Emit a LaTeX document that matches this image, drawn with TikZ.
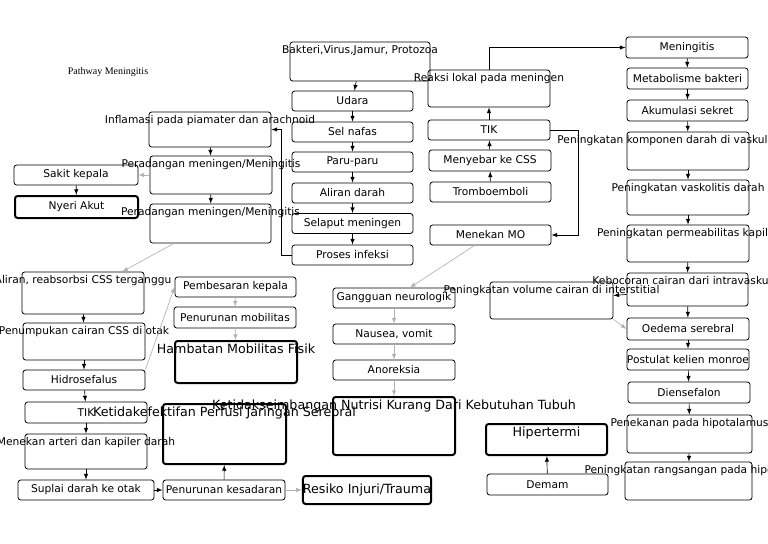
\documentclass[tikz,border=0pt]{standalone}
\usepackage{fontspec}
\setsansfont{DejaVu Sans}
\newfontfamily\ttlfont{Liberation Serif}
\begin{document}
\begin{tikzpicture}[x=0.75pt,y=-0.75pt,
  b/.style 2 args={draw,rounded corners=2pt,line width=0.6pt,minimum width=#1*0.75pt,minimum height=#2*0.75pt,inner sep=0pt,font=\sffamily\fontsize{8}{9}\selectfont},
  tb/.style={line width=1.5pt,font=\sffamily\fontsize{9.5}{10}\selectfont},
  lb/.style={anchor=north,yshift=-2.5pt,inner sep=0pt,font=\sffamily\fontsize{8}{9}\selectfont},
  lbb/.style={anchor=north,yshift=-3pt,inner sep=0pt,font=\sffamily\fontsize{9.5}{10}\selectfont},
  a/.style={-latex,line width=0.5pt,shorten >=0pt},
  ga/.style={-latex,line width=0.5pt,draw=gray!60}]
\useasboundingbox (0,0) rectangle (768,543);
\node[font=\ttlfont\fontsize{7.5}{8}\selectfont] (ttl) at (108,72) {Pathway Meningitis};
% centre column
\node[b={140}{39},label={[lb]north:{Bakteri,Virus,Jamur, Protozoa}}] (bak) at (360,61.5) {};
\node[b={121}{20}] (uda) at (352.5,101) {Udara};
\node[b={121}{20}] (sel) at (352.5,132) {Sel nafas};
\node[b={121}{20}] (paru) at (352.5,162) {Paru-paru};
\node[b={121}{20}] (alir) at (352.5,193) {Aliran darah};
\node[b={121}{20}] (selp) at (352.5,223.5) {Selaput meningen};
\node[b={121}{20}] (pros) at (352.5,255) {Proses infeksi};
% left
\node[b={122}{35},label={[lb]north:{Inflamasi pada piamater dan arachnoid}}] (infl) at (210,129.5) {};
\node[b={122}{38},label={[lb]north:{Peradangan meningen/Meningitis}}] (per1) at (211,175) {};
\node[b={121}{39},label={[lb]north:{Peradangan meningen/Meningitis}}] (per2) at (210.5,223.5) {};
\node[b={124}{20}] (sak) at (76,175) {Sakit kepala};
\node[b={123}{22},line width=1.5pt] (nye) at (76.5,207) {Nyeri Akut};
\node[b={122}{42},label={[lb]north:{Aliran, reabsorbsi CSS terganggu}}] (ali) at (83,293) {};
\node[b={122}{37},label={[lb]north:{Penumpukan cairan CSS di otak}}] (pen) at (84,341.5) {};
\node[b={122}{20}] (hid) at (84,380) {Hidrosefalus};
\node[b={122}{21}] (tik1) at (86,412.5) {TIK};
\node[b={122}{35},label={[lb]north:{Menekan arteri dan kapiler darah}}] (mena) at (86,451.5) {};
\node[b={136}{20}] (sup) at (86,490) {Suplai darah ke otak};
\node[b={122}{20}] (kes) at (224,490) {Penurunan kesadaran};
\node[b={122}{28},tb] (res) at (367,490) {Resiko Injuri/Trauma};
\node[b={123}{60},tb,label={[lbb]north:{Ketidakefektifan Perfusi Jaringan Serebral}}] (ket) at (224.5,434) {};
\node[b={121}{20}] (pemb) at (235.5,287) {Pembesaran kepala};
\node[b={122}{21}] (penm) at (235,317.5) {Penurunan mobilitas};
\node[b={122}{42},tb,label={[lbb]north:{Hambatan Mobilitas Fisik}}] (ham) at (236,362) {};
% right-centre
\node[b={122}{37},label={[lb]north:{Reaksi lokal pada meningen}}] (rea) at (489,88.5) {};
\node[b={122}{20}] (tik2) at (489,130) {TIK};
\node[b={122}{21}] (meny) at (490,160.5) {Menyebar ke CSS};
\node[b={121}{20}] (trom) at (490.5,192) {Tromboemboli};
\node[b={121}{20}] (mo) at (490.5,235) {Menekan MO};
\node[b={122}{20}] (gan) at (394,298) {Gangguan neurologik};
\node[b={122}{20}] (nau) at (394,334) {Nausea, vomit};
\node[b={122}{20}] (ano) at (394,370) {Anoreksia};
\node[b={122}{58},tb,label={[lbb]north:{Ketidakseimbangan Nutrisi Kurang Dari Kebutuhan Tubuh}}] (kse) at (394,426) {};
\node[b={123}{37},label={[lb]north:{Peningkatan volume cairan di interstitial}}] (vol) at (551.5,300.5) {};
\node[b={121}{31},tb,label={[lbb]north:{Hipertermi}}] (hpt) at (546.5,439.5) {};
\node[b={121}{21}] (dem) at (547.5,484.5) {Demam};
% right column
\node[b={122}{21}] (men) at (687,47.5) {Meningitis};
\node[b={121}{21}] (met) at (687.5,78.5) {Metabolisme bakteri};
\node[b={121}{21}] (aku) at (687.5,110.5) {Akumulasi sekret};
\node[b={122}{38},label={[lb,xshift=-15pt]north:{Peningkatan komponen darah di vaskuler}}] (kom) at (688,151) {};
\node[b={122}{35},label={[lb]north:{Peningkatan vaskolitis darah}}] (vas) at (688,197.5) {};
\node[b={122}{37},label={[lb]north:{Peningkatan permeabilitas  kapiler}}] (per) at (688,243.5) {};
\node[b={121}{33},label={[lb]north:{Kebocoran cairan dari intravaskuler}}] (keb) at (687.5,289.5) {};
\node[b={122}{22}] (oed) at (688,329) {Oedema serebral};
\node[b={122}{21}] (pos) at (688,359.5) {Postulat kelien monroe};
\node[b={122}{21}] (die) at (689,392.5) {Diensefalon};
\node[b={125}{38},label={[lb]north:{Penekanan pada hipotalamus}}] (hip) at (689.5,434) {};
\node[b={127}{38},label={[lb]north:{Peningkatan rangsangan pada hipofisa}}] (ran) at (688.5,481) {};
% connectors
\foreach \p/\q in {bak/uda,uda/sel,sel/paru,paru/alir,alir/selp,selp/pros,infl/per1,per1/per2,sak/nye,ali/pen,pen/hid,hid/tik1,tik1/mena,mena/sup,sup/kes,kes/ket,tik2/rea,meny/tik2,trom/meny,men/met,met/aku,aku/kom,kom/vas,vas/per,per/keb,keb/oed,oed/pos,pos/die,die/hip,hip/ran,dem/hpt,keb/vol}
  \draw[a] (\p) -- (\q);
\foreach \p/\q in {per1/sak,per2/ali,kes/res,pemb/penm,penm/ham,mo/gan,gan/nau,nau/ano,ano/kse}
  \draw[ga] (\p) -- (\q);
\draw[ga] (hid.north east) -- (pemb.west);
\draw[ga] (vol.south east) -- (oed.west);
\draw[a] (pros.west) -- ++(-10,0) |- (infl.east);
\draw[a] (tik2.east) -- ++(28,0) |- (mo.east);
\draw[a] (rea.north) |- (men.west);
\end{tikzpicture}
\end{document}
